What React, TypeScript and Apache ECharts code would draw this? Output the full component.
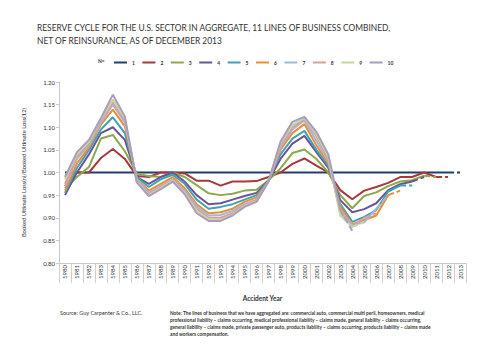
import React, { useEffect, useRef } from "react";
import * as echarts from "echarts";

const years = ["1980","1981","1982","1983","1984","1985","1986","1987","1988","1989","1990","1991","1992","1993","1994","1995","1996","1997","1998","1999","2000","2001","2002","2003","2004","2005","2006","2007","2008","2009","2010","2011","2012","2013"];

const seriesNames = ["1","2","3","4","5","6","7","8","9","10"];

const n1 = [1.0,1.0,1.0,1.0,1.0,1.0,1.0,1.0,1.0,1.0,1.0,1.0,1.0,1.0,1.0,1.0,1.0,1.0,1.0,1.0,1.0,1.0,1.0,1.0,1.0,1.0,1.0,1.0,1.0,1.0,1.0,1.0,1.0,1.0];
const n2 = [0.97,1.0,1.0,1.032,1.052,1.03,0.992,0.99,1.0,1.0,0.998,0.982,0.982,0.971,0.98,0.98,0.981,0.99,1.0,1.019,1.031,1.015,1.0,0.961,0.941,0.96,0.968,0.977,0.99,0.99,1.0,0.99,0.99];
const n3 = [0.965,0.99,1.012,1.075,1.083,1.047,0.998,0.992,0.99,1.0,0.99,0.972,0.954,0.95,0.953,0.96,0.962,0.983,1.009,1.043,1.051,1.03,1.0,0.95,0.921,0.948,0.956,0.97,0.98,0.983,0.993,0.99];
const n4 = [0.95,1.0,1.04,1.087,1.1,1.072,0.99,0.975,0.99,1.0,0.98,0.95,0.93,0.932,0.94,0.948,0.955,0.982,1.03,1.064,1.081,1.045,1.01,0.939,0.912,0.919,0.932,0.961,0.974,0.98,0.99];
const n5 = [0.955,1.01,1.05,1.095,1.122,1.087,0.99,0.968,0.985,0.995,0.975,0.94,0.92,0.924,0.93,0.94,0.95,0.982,1.04,1.075,1.092,1.05,1.015,0.93,0.891,0.902,0.917,0.958,0.971,0.971];
const n6 = [0.96,1.02,1.055,1.106,1.139,1.102,0.985,0.96,0.975,0.99,0.965,0.93,0.91,0.912,0.92,0.935,0.945,0.98,1.05,1.087,1.107,1.06,1.02,0.925,0.886,0.895,0.905,0.95,0.96];
const n7 = [0.97,1.03,1.06,1.11,1.15,1.11,0.985,0.955,0.97,0.985,0.96,0.925,0.905,0.906,0.915,0.93,0.94,0.98,1.055,1.095,1.115,1.07,1.025,0.915,0.884,0.89,0.92,0.95];
const n8 = [0.975,1.035,1.065,1.115,1.155,1.115,0.98,0.952,0.968,0.983,0.958,0.92,0.9,0.9,0.91,0.928,0.938,0.98,1.06,1.1,1.118,1.08,1.03,0.91,0.88,0.9,0.91];
const n9 = [0.985,1.04,1.068,1.118,1.161,1.12,0.98,0.95,0.966,0.982,0.955,0.915,0.897,0.895,0.907,0.926,0.936,0.98,1.065,1.105,1.12,1.085,1.035,0.905,0.88,0.89];
const n10 = [0.99,1.045,1.072,1.12,1.172,1.124,0.978,0.948,0.963,0.98,0.952,0.91,0.893,0.893,0.905,0.924,0.935,0.98,1.068,1.112,1.123,1.09,1.04,0.917,0.871];

const colors = ["#1F3F6E","#A8383B","#8AAA4C","#6A5594","#3FA2B8","#F08C30","#9DB9DE","#DD9B99","#C4D89D","#A99CC0"];

const noteLines = [
  "Note: The lines of business that we have aggregated are: commercial auto, commercial multi peril, homeowners, medical",
  "professional liability \u2013 claims occurring, medical professional liability \u2013 claims made, general liability \u2013 claims occurring,",
  "general liability \u2013 claims made, private passenger auto, products liability \u2013 claims occurring, products liability \u2013 claims made",
  "and workers compensation.",
];

const FONT = "Lato, 'Noto Sans', sans-serif";

export default function App() {
  const ref = useRef<HTMLDivElement>(null);
  useEffect(() => {
    if (!ref.current) return;
    const chart = echarts.init(ref.current, undefined, { renderer: "svg" });
    const all = [n1, n2, n3, n4, n5, n6, n7, n8, n9, n10];
    const series: any[] = [];
    all.forEach((d, k) => {
      const len = d.length;
      const solid = d.map((v, i) => (i <= len - 2 ? v : null));
      const dashed = d.map((v, i) => (i >= len - 2 ? v : null));
      series.push({
        name: seriesNames[k],
        type: "line",
        data: solid,
        symbol: "none",
        color: colors[k],
        lineStyle: { width: 2, color: colors[k] },
        z: 2,
      });
      series.push({
        name: seriesNames[k] + "p",
        type: "line",
        data: dashed,
        symbol: "none",
        color: colors[k],
        lineStyle: { width: 2, color: colors[k], type: [6, 3] },
        z: 2,
      });
    });
    const graphics: any[] = [
      { type: "text", x: 37, y: 22, scaleX: 0.84, style: { text: "RESERVE CYCLE FOR THE U.S. SECTOR IN AGGREGATE, 11 LINES OF BUSINESS COMBINED,", fontSize: 10, fontFamily: FONT, fill: "#333" } },
      { type: "text", x: 37, y: 35, scaleX: 0.84, style: { text: "NET OF REINSURANCE, AS OF DECEMBER 2013", fontSize: 10, fontFamily: FONT, fill: "#333" } },
      { type: "text", x: 98, y: 58.5, style: { text: "N=", fontSize: 5, fontFamily: FONT, fill: "#333", fontWeight: "bold" } },
      { type: "text", x: 60, y: 310, style: { text: "Source: Guy Carpenter & Co., LLC.", fontSize: 5.5, fontFamily: FONT, fill: "#333" } },
    ];
    noteLines.forEach((t, i) => {
      graphics.push({ type: "text", x: 170, y: 310 + i * 7.2, style: { text: t, fontSize: 4.8, fontFamily: FONT, fill: "#333", fontWeight: "bold" } });
    });
    chart.setOption({
      animation: false,
      backgroundColor: "#fff",
      textStyle: { fontFamily: FONT },
      legend: {
        data: seriesNames,
        left: 109,
        top: 55,
        icon: "rect",
        itemWidth: 13,
        itemHeight: 2,
        itemGap: 7.5,
        textStyle: { fontSize: 5, color: "#333", fontFamily: FONT, fontWeight: "bold" },
      },
      grid: { left: 59, right: 13, top: 82, bottom: 90, containLabel: false },
      xAxis: {
        type: "category",
        data: years,
        boundaryGap: true,
        name: "Accident Year",
        nameLocation: "middle",
        nameGap: 32,
        nameTextStyle: { fontSize: 6.5, fontWeight: "bold", color: "#333", fontFamily: FONT },
        axisLine: { lineStyle: { color: "#C8C8C8", width: 1 } },
        axisTick: { show: true, interval: 0, length: 20, lineStyle: { color: "#D0D0D0" } },
        axisLabel: { rotate: 90, interval: 0, fontSize: 6, color: "#333", margin: 2, fontFamily: FONT },
        splitLine: { show: false },
      },
      yAxis: {
        type: "value",
        min: 0.8,
        max: 1.2,
        interval: 0.05,
        name: "Booked Ultimate Loss(n)/Booked Ultimate Loss(12)",
        nameLocation: "middle",
        nameGap: 33,
        nameRotate: 90,
        nameTextStyle: { fontSize: 5.8, color: "#333", fontFamily: FONT },
        axisLine: { show: true, lineStyle: { color: "#C8C8C8", width: 1 } },
        axisTick: { show: true, length: 3, lineStyle: { color: "#C8C8C8" } },
        axisLabel: { fontSize: 6, color: "#333", margin: 4, fontFamily: FONT, formatter: (v: number) => v.toFixed(2) },
        splitLine: { show: false },
      },
      graphic: graphics,
      series,
    });
    return () => chart.dispose();
  }, []);
  return <div ref={ref} style={{ position: "absolute", left: 0, top: 0, width: 479, height: 353 }} />;
}
